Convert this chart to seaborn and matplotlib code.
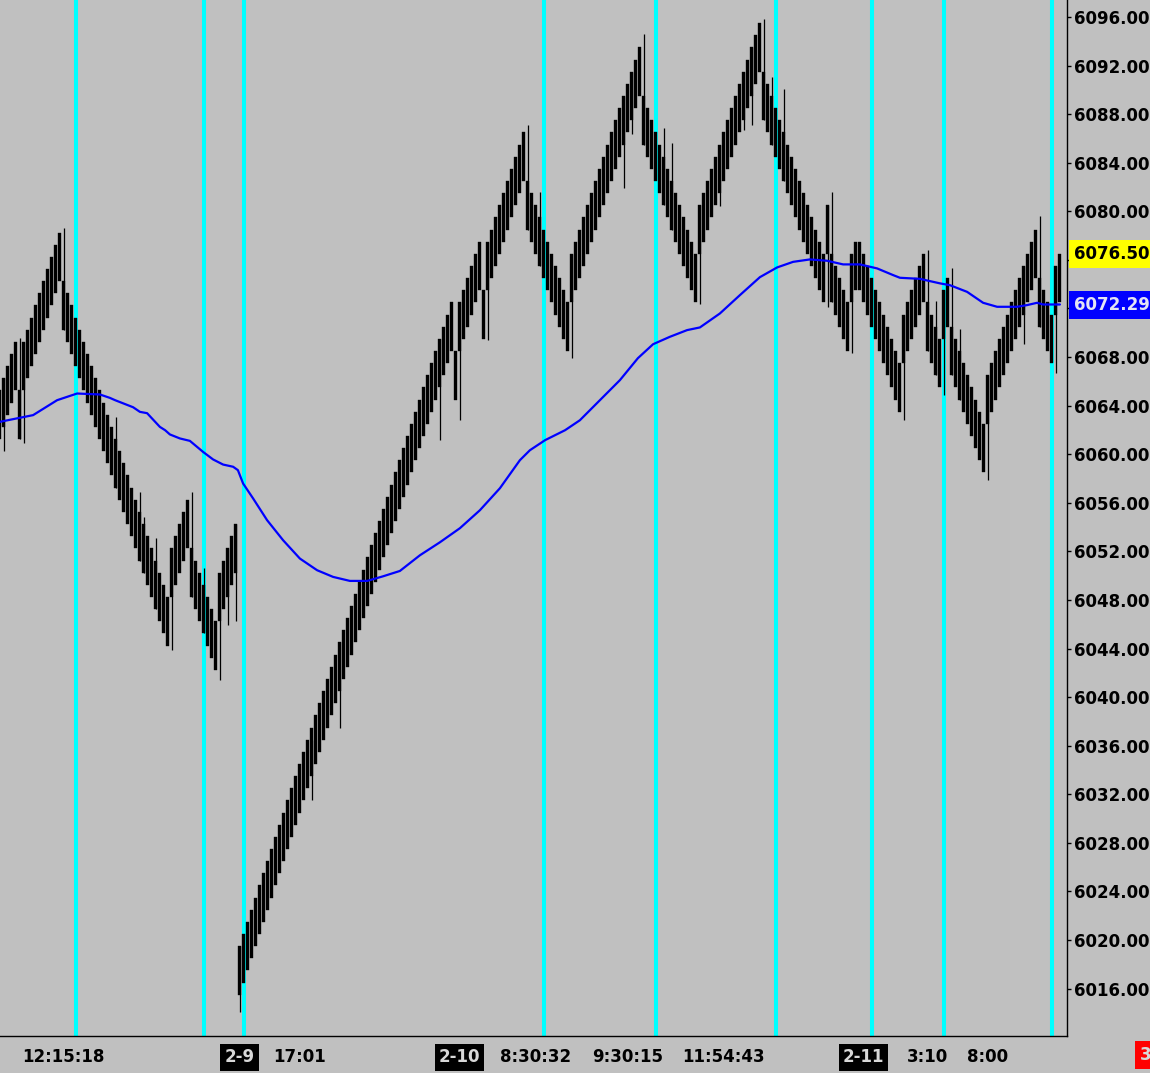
import matplotlib
matplotlib.use('Agg')
import matplotlib.pyplot as plt
import matplotlib.transforms as mtransforms
import seaborn as sns

# body top of every brick (each brick is 4 points tall)
tops = [
    6065.25, 6066.25, 6067.25, 6068.25, 6069.25, 6065.25, 6069.25, 6070.25, 6071.25, 6072.25,
    6073.25, 6074.25, 6075.25, 6076.25, 6077.25, 6078.25, 6074.25, 6073.25, 6072.25, 6071.25,
    6070.25, 6069.25, 6068.25, 6067.25, 6066.25, 6065.25, 6064.25, 6063.25, 6062.25, 6061.25,
    6060.25, 6059.25, 6058.25, 6057.25, 6056.25, 6055.25, 6054.25, 6053.25, 6052.25, 6051.25,
    6050.25, 6049.25, 6048.25, 6052.25, 6053.25, 6054.25, 6055.25, 6056.25, 6052.25, 6051.25,
    6050.25, 6049.25, 6048.25, 6047.25, 6046.25, 6050.25, 6051.25, 6052.25, 6053.25, 6054.25,
    # 2-9
    6019.5, 6020.5, 6021.5, 6022.5, 6023.5, 6024.5, 6025.5, 6026.5, 6027.5, 6028.5,
    6029.5, 6030.5, 6031.5, 6032.5, 6033.5, 6034.5, 6035.5, 6036.5, 6037.5, 6038.5,
    6039.5, 6040.5, 6041.5, 6042.5, 6043.5, 6044.5, 6045.5, 6046.5, 6047.5, 6048.5,
    6049.5, 6050.5, 6051.5, 6052.5, 6053.5, 6054.5, 6055.5, 6056.5, 6057.5, 6058.5,
    6059.5, 6060.5, 6061.5, 6062.5, 6063.5, 6064.5, 6065.5, 6066.5, 6067.5, 6068.5,
    6069.5, 6070.5, 6071.5, 6072.5, 6068.5, 6072.5, 6073.5, 6074.5, 6075.5, 6076.5,
    6077.5, 6073.5, 6077.5, 6078.5, 6079.5, 6080.5, 6081.5, 6082.5, 6083.5, 6084.5,
    6085.5, 6086.5, 6082.5, 6081.5, 6080.5, 6079.5, 6078.5, 6077.5, 6076.5, 6075.5,
    6074.5, 6073.5, 6072.5, 6076.5, 6077.5, 6078.5, 6079.5, 6080.5, 6081.5, 6082.5,
    6083.5, 6084.5, 6085.5, 6086.5, 6087.5, 6088.5, 6089.5, 6090.5, 6091.5, 6092.5,
    6093.5, 6089.5, 6088.5, 6087.5, 6086.5, 6085.5, 6084.5, 6083.5, 6082.5, 6081.5,
    6080.5, 6079.5, 6078.5, 6077.5, 6076.5, 6080.5, 6081.5, 6082.5, 6083.5, 6084.5,
    6085.5, 6086.5, 6087.5, 6088.5, 6089.5, 6090.5, 6091.5, 6092.5, 6093.5, 6094.5,
    6095.5, 6091.5, 6090.5, 6089.5, 6088.5, 6087.5, 6086.5, 6085.5, 6084.5, 6083.5,
    6082.5, 6081.5, 6080.5, 6079.5, 6078.5, 6077.5, 6076.5, 6080.5, 6076.5, 6075.5,
    6074.5, 6073.5, 6072.5, 6076.5, 6077.5, 6077.5, 6076.5, 6075.5, 6074.5, 6073.5,
    6072.5, 6071.5, 6070.5, 6069.5, 6068.5, 6067.5, 6071.5, 6072.5, 6073.5, 6074.5,
    6075.5, 6076.5, 6072.5, 6071.5, 6070.5, 6069.5, 6073.5, 6074.5, 6070.5, 6069.5,
    6068.5, 6067.5, 6066.5, 6065.5, 6064.5, 6063.5, 6062.5, 6066.5, 6067.5, 6068.5,
    6069.5, 6070.5, 6071.5, 6072.5, 6073.5, 6074.5, 6075.5, 6076.5, 6077.5, 6078.5,
    6074.5, 6073.5, 6072.5, 6071.5, 6075.5, 6076.5,
]
brick = 4

wick_bar = [1, 5, 6, 16, 29, 35, 36, 39, 43, 48, 51, 55, 57, 59, 60, 78, 85, 110, 115, 122,
            132, 135, 143, 156, 158, 161, 166, 168, 175, 180, 186, 188, 191, 193, 196,
            207, 208, 213, 226, 232, 234, 236, 238, 240, 247, 256, 260, 264]
wick_lo = [6060.3, 6061.25, 6060.9, 6070.25, 6057.25, 6051.25, 6050.25, 6047.25, 6043.9, 6048.25,
           6045.25, 6041.4, 6045.9, 6046.3, 6014.1, 6031.5, 6037.5, 6061.2, 6062.8, 6069.4,
           6078.5, 6075.5, 6067.9, 6081.9, 6086.4, 6085.5, 6080.5, 6078.5, 6072.4, 6080.4,
           6086.7, 6087.1, 6087.5, 6085.5, 6082.5, 6072.1, 6072.5, 6068.3, 6062.8, 6068.5,
           6066.5, 6064.9, 6066.5, 6064.5, 6057.9, 6069.1, 6070.5, 6066.7]
wick_hi = [6066.25, 6069.6, 6069.25, 6078.6, 6063.1, 6056.9, 6054.8, 6053.1, 6052.25, 6056.9,
           6050.6, 6050.25, 6052.25, 6054.25, 6019.5, 6036.5, 6044.5, 6069.5, 6072.5, 6077.5,
           6087.1, 6081.6, 6076.5, 6089.5, 6091.5, 6094.6, 6086.9, 6085.6, 6080.5, 6085.5,
           6091.5, 6093.5, 6095.8, 6091.1, 6090.1, 6080.5, 6081.6, 6076.5, 6071.5, 6076.8,
           6072.6, 6073.5, 6075.3, 6070.3, 6066.5, 6075.5, 6079.6, 6075.5]

# moving average
ma_idx = [0.1, 8.4, 14.4, 19.4, 25.1, 27.6, 28.9, 33.4, 35.1, 36.9, 40.1, 41.4, 42.6, 45.1, 47.6,
          50.9, 53.4, 55.9, 58.4, 59.6, 60.9, 63.4, 66.9, 70.9, 75.1, 79.4, 83.4, 87.6, 91.9,
          95.9, 100.1, 105.1, 110.1, 115.1, 120.1, 125.1, 130.1, 132.6, 136.4, 141.4, 145.1,
          150.1, 155.1, 159.6, 163.4, 167.6, 171.9, 175.1, 180.1, 185.1, 190.1, 194.4, 198.4,
          202.6, 206.9, 210.9, 215.1, 219.4, 223.4, 225.1, 230.1, 235.1, 237.6, 241.9, 245.9,
          249.4, 254.4, 256.9, 259.4, 260.9, 265.1]
ma_val = [6062.67, 6063.22, 6064.45, 6065.0, 6064.92, 6064.64, 6064.45, 6063.87, 6063.49, 6063.38,
          6062.25, 6061.98, 6061.63, 6061.30, 6061.10, 6060.19, 6059.57, 6059.15, 6058.97, 6058.69,
          6057.59, 6056.36, 6054.57, 6052.92, 6051.41, 6050.45, 6049.90, 6049.57, 6049.57, 6049.95,
          6050.39, 6051.68, 6052.75, 6053.91, 6055.39, 6057.20, 6059.51, 6060.33, 6061.16, 6061.98,
          6062.80, 6064.45, 6066.10, 6067.91, 6069.06, 6069.67, 6070.22, 6070.44, 6071.59, 6073.10,
          6074.58, 6075.38, 6075.84, 6076.04, 6075.93, 6075.63, 6075.63, 6075.30, 6074.75, 6074.53,
          6074.44, 6074.07, 6073.92, 6073.37, 6072.47, 6072.14, 6072.14, 6072.28, 6072.47, 6072.33,
          6072.33]

session_bars = [19, 51, 61, 136, 164, 194, 218, 236, 263]
xtick_bars = [16, 60, 75, 115, 134, 157, 181, 216, 232, 247]
xtick_text = ['12:15:18', '2-9', '17:01', '2-10', '8:30:32', '9:30:15', '11:54:43', '2-11', '3:10', '8:00']
date_text = ['2-9', '2-10', '2-11']
yticks = list(range(6016, 6097, 4))
last_price = 6076.50
ma_last = 6072.29

sns.set_theme(style='white')
plt.rcParams['font.family'] = ['DejaVu Sans']
bg = '#c0c0c0'

fig = plt.figure(figsize=(11.5, 10.73), dpi=100)
fig.patch.set_facecolor(bg)
ax = fig.add_axes([0, 37 / 1073, 1067 / 1150, 1036 / 1073])
ax.set_facecolor(bg)

for b in session_bars:
    ax.axvline(b, color='#00ffff', lw=2.9, zorder=1)

idx = list(range(len(tops)))
ax.vlines(wick_bar, wick_lo, wick_hi, color='black', lw=0.9, zorder=2)
ax.bar(idx, brick, bottom=[t - brick for t in tops], width=0.8, color='black',
       edgecolor='black', linewidth=0.25, zorder=3)

sns.lineplot(x=ma_idx, y=ma_val, ax=ax, color='#0000ff', lw=1.6, sort=False, zorder=4)

ax.set_xlim(0.125, 266.875)
ax.set_ylim(6012.1, 6097.4)

for s in ['left', 'top']:
    ax.spines[s].set_visible(False)
for s in ['right', 'bottom']:
    ax.spines[s].set_color('black')
    ax.spines[s].set_linewidth(1.0)

# labels under the two price boxes are hidden in the reference
ylabels = ['' if v in (6072, 6076) else f'{v:.2f}' for v in yticks]
ax.yaxis.tick_right()
ax.set_yticks(yticks, ylabels, fontweight='bold', fontsize=12)
ax.tick_params(axis='y', direction='out', length=3, width=1, pad=2, colors='black',
               right=True, left=False, labelright=True, labelleft=False)
ax.set_xticks(xtick_bars, xtick_text, fontweight='bold', fontsize=12)
ax.tick_params(axis='x', direction='out', length=3, width=1, pad=6, colors='black')
for lbl in ax.get_xticklabels():
    if lbl.get_text() in date_text:
        lbl.set_color('#d8d8d8')
        lbl.set_bbox(dict(boxstyle='square,pad=0.25', fc='black', ec='none'))

trans = mtransforms.blended_transform_factory(ax.transAxes, ax.transData)
ax.text(1.0065, last_price, f'{last_price:.2f}', transform=trans, ha='left', va='center',
        fontsize=12, fontweight='bold', color='black', clip_on=False, zorder=6,
        bbox=dict(boxstyle='square,pad=0.3', fc='#ffff00', ec='none'))
ax.text(1.0065, ma_last, f'{ma_last:.2f}', transform=trans, ha='left', va='center',
        fontsize=12, fontweight='bold', color='#e4e4f4', clip_on=False, zorder=6,
        bbox=dict(boxstyle='square,pad=0.3', fc='#0000ff', ec='none'))

fig.text(1140 / 1150, 18 / 1073, '3', ha='left', va='center', fontsize=12, fontweight='bold',
         color='#d8d8d8', bbox=dict(boxstyle='square,pad=0.3', fc='#ff0000', ec='none'))

fig.savefig('out.png', dpi=100, facecolor=bg)
